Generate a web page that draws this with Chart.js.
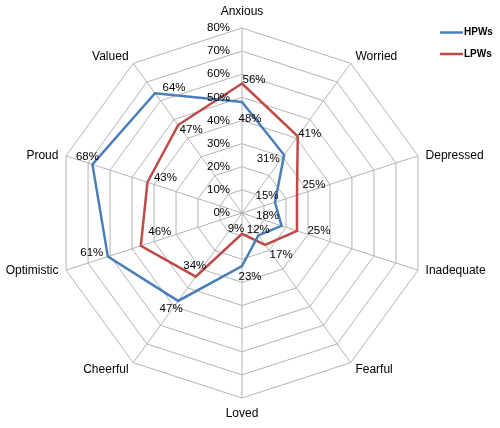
<!DOCTYPE html>
<html>
<head>
<meta charset="utf-8">
<script src="https://cdn.jsdelivr.net/npm/chart.js@4.4.1/dist/chart.umd.min.js"></script>
<style>
    html, body { margin: 0; padding: 0; background: #fff; }
    #wrap { width: 500px; height: 428px; }
</style>
</head>
<body>
<div id="wrap"><canvas id="radarChart" width="500" height="428"></canvas></div>
<script>
// Datos
var categories = ["Anxious", "Worried", "Depressed", "Inadequate", "Fearful", "Loved", "Cheerful", "Optimistic", "Proud", "Valued"];
var seriesNames = ["HPWs", "LPWs"];
var hpwValues = [48, 31, 15, 18, 12, 23, 47, 61, 68, 64];
var lpwValues = [56, 41, 25, 25, 17, 9, 34, 46, 43, 47];
var tickLabels = ["0%", "10%", "20%", "30%", "40%", "50%", "60%", "70%", "80%"];

var FONT = "'Liberation Sans', Arial, sans-serif";

// Dibuja etiquetas de ejes, valores y leyenda
var overlay = {
    id: "overlay",
    afterDatasetsDraw: function (chart) {
        var ctx = chart.ctx;
        var scale = chart.scales.r;
        var cx = scale.xCenter, cy = scale.yCenter, R = scale.drawingArea;
        ctx.save();
        ctx.fillStyle = "#000";

        // etiquetas del eje (0% - 80%)
        ctx.font = "11.5px " + FONT;
        ctx.textAlign = "right";
        ctx.textBaseline = "middle";
        tickLabels.forEach(function (t) {
            var p = scale.getPointPositionForValue(0, parseFloat(t));
            ctx.fillText(t, p.x - 12, p.y);
        });

        // nombres de categorias
        ctx.font = "12px " + FONT;
        categories.forEach(function (name, i) {
            var p = scale.getPointPosition(i, R);
            var dx = (p.x - cx) / R, dy = (p.y - cy) / R;
            var x = p.x + dx * 8;
            var y = p.y + dy * Math.pow(Math.abs(dy), 3) * 16;
            ctx.textAlign = Math.abs(dx) < 0.05 ? "center" : (dx > 0 ? "left" : "right");
            ctx.textBaseline = "middle";
            ctx.fillText(name, x, y);
        });

        // valores de cada serie
        ctx.font = "11.5px " + FONT;
        ctx.textAlign = "center";
        ctx.textBaseline = "middle";
        chart.data.datasets.forEach(function (ds, di) {
            var meta = chart.getDatasetMeta(di);
            meta.data.forEach(function (pt, i) {
                var off = ds.labelOffsets[i];
                ctx.fillText(ds.data[i] + "%", pt.x + off[0], pt.y + off[1]);
            });
        });

        // leyenda
        ctx.font = "bold 10px " + FONT;
        ctx.textAlign = "left";
        chart.data.datasets.forEach(function (ds, di) {
            var y = 32.5 + di * 21.5;
            ctx.strokeStyle = ds.borderColor;
            ctx.lineWidth = 2.5;
            ctx.beginPath();
            ctx.moveTo(440, y);
            ctx.lineTo(463, y);
            ctx.stroke();
            ctx.fillText(ds.label, 464, y);
        });
        ctx.restore();
    }
};

var ctx = document.getElementById("radarChart").getContext("2d");
var chart = new Chart(ctx, {
    type: "radar",
    data: {
        labels: categories,
        datasets: [
            {
                label: seriesNames[0],
                data: hpwValues,
                borderColor: "#4A7EBB",
                backgroundColor: "rgba(0,0,0,0)",
                borderWidth: 2.5,
                pointRadius: 0,
                fill: false,
                labelOffsets: [[8, 17], [-16, 4], [-8, -6], [-14, -10], [0, -6], [8, 11], [-7, 8], [-16, -4], [-5, -8], [19, -5]]
            },
            {
                label: seriesNames[1],
                data: lpwValues,
                borderColor: "#BE4B48",
                backgroundColor: "rgba(0,0,0,0)",
                borderWidth: 2.5,
                pointRadius: 0,
                fill: false,
                labelOffsets: [[12, -4], [12, -2], [17, -10], [22, 0], [16, 10], [-6, -5], [-1, -11], [19, -14], [18, -4], [13, 5]]
            }
        ]
    },
    options: {
        responsive: false,
        animation: false,
        layout: { padding: { left: 57, right: 73, top: 28, bottom: 30 } },
        elements: { line: { tension: 0 } },
        plugins: {
            legend: { display: false },
            tooltip: { enabled: false }
        },
        scales: {
            r: {
                min: 0,
                max: 80,
                ticks: { stepSize: 10, display: false },
                pointLabels: { display: false },
                grid: { color: "#b3b3b3", lineWidth: 1, circular: false },
                angleLines: { color: "#b3b3b3", lineWidth: 1 }
            }
        }
    },
    plugins: [overlay]
});
</script>
</body>
</html>
